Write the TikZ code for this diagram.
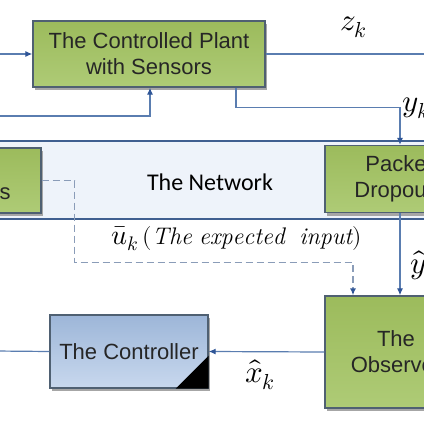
\documentclass[tikz,border=0pt]{standalone}
\usepackage{fontspec}
\usepackage{unicode-math}
\setmathfont{Latin Modern Math}
\setsansfont{Liberation Sans}
\newfontfamily\netfont{Carlito}
\usetikzlibrary{arrows.meta,shadows,calc}
\definecolor{linec}{HTML}{5A7DB0}
\definecolor{tipc}{HTML}{2F5597}
\definecolor{netline}{HTML}{3F5F90}
\definecolor{netfill}{HTML}{EEF3FA}
\definecolor{gtop}{HTML}{9CBB5C}
\definecolor{gbot}{HTML}{AECB76}
\definecolor{btop}{HTML}{9DB6D8}
\definecolor{bbot}{HTML}{C8D8EE}
\definecolor{boxline}{HTML}{4F6072}
\definecolor{dashc}{HTML}{8A9CB8}
\tikzset{
  blk/.style={draw=boxline,line width=1.3pt,rectangle,inner sep=0pt,align=center,
    font=\sffamily\fontsize{22}{26}\selectfont,text=black!85,
    drop shadow={shadow xshift=1.5pt,shadow yshift=-3pt,fill=black!35,opacity=1}},
  gblk/.style={blk,top color=gtop,bottom color=gbot},
  bblk/.style={blk,top color=btop,bottom color=bbot},
  conn/.style={draw=linec,line width=1.2pt},
  arr/.style={conn,-{Latex[length=7pt,width=6pt,color=tipc]}},
  dconn/.style={conn,draw=dashc,dash pattern=on 7pt off 4pt,line width=1.6pt},
  mlab/.style={inner sep=0pt,anchor=base west,font=\fontsize{31}{33}\selectfont}
}
\begin{document}
\begin{tikzpicture}[x=1pt,y=-1pt]
\useasboundingbox (0,0) rectangle (424,424);
\clip (0,0) rectangle (424,424);
\fill[white] (0,0) rectangle (424,424);
% network band
\fill[netfill] (-10,141) rectangle (440,219);
\draw[netline,line width=2.5pt] (-10,141) -- (440,141) (-10,219) -- (440,219);
\node[font=\netfont\fontsize{24}{26}\selectfont,inner sep=0pt] (net) at (210,182) {The Network};
% blocks
\node[gblk,minimum width=232pt,minimum height=66pt] (plant) at (149,54) {The Controlled Plant\\with Sensors};
\node[gblk,minimum width=148pt,minimum height=67pt] (pkR) at (399,179) {Packet\\Dropouts};
\node[gblk,minimum width=150pt,minimum height=65pt] (pkL) at (-34,180.5) {Packet\\Dropouts};
\node[gblk,minimum width=142pt,minimum height=112pt] (obs) at (396,352) {The\\Observer};
\node[bblk,minimum width=158pt,minimum height=73pt] (ctrl) at (129,351.5) {The Controller};
\fill[black] (ctrl.south east) -- ++(-33,0) -- ++(33,-33) -- cycle;
% coordinates for free ends
\coordinate (inA) at (-5,54);
\coordinate (inB) at (-5,116);
\coordinate (zend) at (440,54);
\coordinate (cend) at (-5,351);
% connectors
\draw[arr] (inA) -- (plant.west);
\draw[arr] (inB) -| ([xshift=1pt]plant.south);
\draw[conn] (plant.east) -- (zend);
\draw[arr] ([xshift=87pt]plant.south) -- ++(0,20) -| ([xshift=1pt]pkR.north);
\draw[arr] ([xshift=1pt]pkR.south) -- ([xshift=4pt]obs.north);
\draw[dconn,-{Latex[length=7pt,width=6pt,color=tipc]}] (pkL.east) -- ++(33,0) -- ++(0,82) -| ([xshift=-43pt]obs.north);
\draw[arr] (obs.west) -- (ctrl.east);
\draw[conn] (ctrl.west) -- (cend);
% labels
\node[mlab] (zl) at (340,30) {$z_k$};
\node[mlab] (yl) at (402,111) {$y_k$};
\node[mlab] (yhl) at (410,273) {$\hat{y}_k$};
\node[mlab] (xl) at (245,382) {$\hat{x}_k$};
\node[mlab,font=\fontsize{28}{30}\selectfont] (ul) at (111,244) {$\bar{u}_k$\,{\fontsize{24}{26}\selectfont$(\mathit{The\ expected\ \ input})$}};
\end{tikzpicture}
\end{document}
